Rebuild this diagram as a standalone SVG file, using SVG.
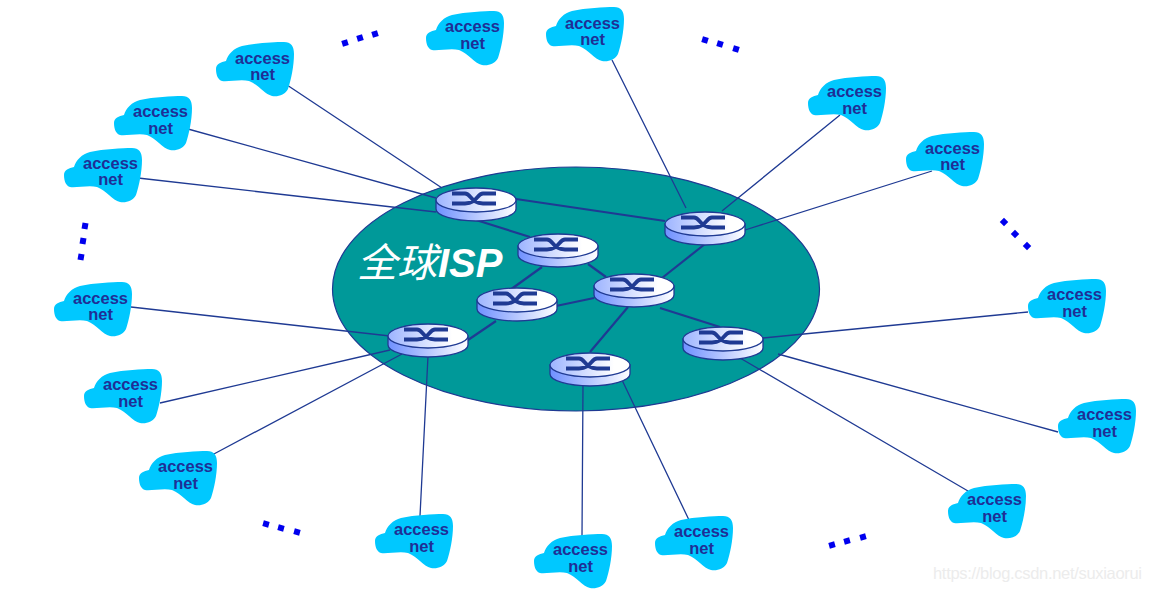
<svg xmlns="http://www.w3.org/2000/svg" width="1151" height="591" viewBox="0 0 1151 591">
<style>
.acc{stroke:#1f3a93;stroke-width:1.3;fill:none}
.bb{stroke:#1f3a93;stroke-width:2.2;fill:none}
.lbl{font:bold 16.5px "Liberation Sans",Arial,sans-serif;fill:#1f2f96;text-anchor:middle}
.dot{fill:#0000ee}
</style>
<defs>
<linearGradient id="rg" x1="0" x2="1" y1="0" y2="0"><stop offset="0" stop-color="#6f90ff"/><stop offset="1" stop-color="#ffffff"/></linearGradient>
<linearGradient id="rt" x1="0" x2="1" y1="0" y2="0"><stop offset="0" stop-color="#9db4ff"/><stop offset="0.8" stop-color="#ffffff"/></linearGradient>
<path id="blob" fill="#00c8ff" d="M0 27C0 22 5 20 10 19C12 12 18 6 26 4C40 1 58 0 68 0C75 0 78 4 78 12C78 24 75 38 72 47C69 53 62 55 56 54C48 52 43 43 33 39C25 37 12 40 6 39C2 38 0 33 0 27Z"/>
<g id="router">
<path d="M-40 0V9A40 12 0 0 0 40 9V0Z" fill="url(#rg)" stroke="#1f3a93" stroke-width="1.3"/>
<ellipse rx="40" ry="12" fill="url(#rt)" stroke="#1f3a93" stroke-width="1.3"/>
<path d="M-24 -6.500H-11C-5 -6.500 -5 3.500 7 3.500H20M20 -6.500H7C1 -6.500 1 3.500 -11 3.500H-24" fill="none" stroke="#1f3a93" stroke-width="3.800"/>
</g>
</defs>
<ellipse id="core" cx="576" cy="289" rx="243.500" ry="122" fill="#009999" stroke="#1f3a93" stroke-width="1.200"/>
<g id="connectors">
<path class="acc" d="M287 85L442 188M188 129L436 198M138 178L436 212M131 307L390 336M160 403L390 350M212 455L402 354M420 516L428 356M582 536L583 385M689 520L622 380M968 491L740 358M1058 432L778 354M1028 312L763 338M932 171L745 230M840 115L722 211M612 60L686 208"/>
<path class="bb" d="M516 199L665 221M476 220L530 237M542 267L510 290M588 264L606 277M705 244L662 278M556 306L594 298M496 321L468 340M628 307L590 352M660 308L720 327"/>
</g>
<g id="routers">
<use id="r1" href="#router" x="476" y="200"/>
<use id="r2" href="#router" x="558" y="246"/>
<use id="r3" href="#router" x="705" y="224"/>
<use id="r4" href="#router" x="634" y="286"/>
<use id="r5" href="#router" x="517" y="300"/>
<use id="r6" href="#router" x="428" y="336"/>
<use id="r7" href="#router" x="723" y="339"/>
<use id="r8" href="#router" x="590" y="365"/>
</g>
<g id="a1" transform="translate(216,42)"><use href="#blob"/><text class="lbl" x="46.500" y="22">access</text><text class="lbl" x="46.500" y="38">net</text></g>
<g id="a2" transform="translate(114,96)"><use href="#blob"/><text class="lbl" x="46.500" y="21">access</text><text class="lbl" x="46.500" y="38">net</text></g>
<g id="a3" transform="translate(64,148)"><use href="#blob"/><text class="lbl" x="46.500" y="21">access</text><text class="lbl" x="46.500" y="37">net</text></g>
<g id="a4" transform="translate(54,282)"><use href="#blob"/><text class="lbl" x="46.500" y="22">access</text><text class="lbl" x="46.500" y="38">net</text></g>
<g id="a5" transform="translate(84,369)"><use href="#blob"/><text class="lbl" x="46.500" y="21">access</text><text class="lbl" x="46.500" y="38">net</text></g>
<g id="a6" transform="translate(139,451)"><use href="#blob"/><text class="lbl" x="46.500" y="21">access</text><text class="lbl" x="46.500" y="38">net</text></g>
<g id="a7" transform="translate(375,514)"><use href="#blob"/><text class="lbl" x="46.500" y="21">access</text><text class="lbl" x="46.500" y="38">net</text></g>
<g id="a8" transform="translate(534,534)"><use href="#blob"/><text class="lbl" x="46.500" y="21">access</text><text class="lbl" x="46.500" y="38">net</text></g>
<g id="a9" transform="translate(655,516)"><use href="#blob"/><text class="lbl" x="46.500" y="21">access</text><text class="lbl" x="46.500" y="38">net</text></g>
<g id="a10" transform="translate(948,484)"><use href="#blob"/><text class="lbl" x="46.500" y="21">access</text><text class="lbl" x="46.500" y="38">net</text></g>
<g id="a11" transform="translate(1058,399)"><use href="#blob"/><text class="lbl" x="46.500" y="21">access</text><text class="lbl" x="46.500" y="38">net</text></g>
<g id="a12" transform="translate(1028,279)"><use href="#blob"/><text class="lbl" x="46.500" y="21">access</text><text class="lbl" x="46.500" y="38">net</text></g>
<g id="a13" transform="translate(906,132)"><use href="#blob"/><text class="lbl" x="46.500" y="22">access</text><text class="lbl" x="46.500" y="38">net</text></g>
<g id="a14" transform="translate(808,76)"><use href="#blob"/><text class="lbl" x="46.500" y="21">access</text><text class="lbl" x="46.500" y="38">net</text></g>
<g id="a15" transform="translate(546,7)"><use href="#blob"/><text class="lbl" x="46.500" y="22">access</text><text class="lbl" x="46.500" y="38">net</text></g>
<g id="a16" transform="translate(426,11)"><use href="#blob"/><text class="lbl" x="46.500" y="21">access</text><text class="lbl" x="46.500" y="38">net</text></g>
<g id="dots" class="dot">
<rect x="342" y="40" width="6" height="6" transform="rotate(-17 345 43)"/><rect x="357" y="35" width="6" height="6" transform="rotate(-17 360 38)"/><rect x="372" y="31" width="6" height="6" transform="rotate(-17 375 34)"/>
<rect x="702" y="37" width="6" height="6" transform="rotate(17 705 40)"/><rect x="717" y="41" width="6" height="6" transform="rotate(17 720 44)"/><rect x="733" y="46" width="6" height="6" transform="rotate(17 736 49)"/>
<rect x="1001" y="219" width="6" height="6" transform="rotate(45 1004 222)"/><rect x="1012" y="231" width="6" height="6" transform="rotate(45 1015 234)"/><rect x="1024" y="243" width="6" height="6" transform="rotate(45 1027 246)"/>
<rect x="82" y="223" width="6" height="6" transform="rotate(10 85 226)"/><rect x="80" y="238" width="6" height="6" transform="rotate(10 83 241)"/><rect x="78" y="254" width="6" height="6" transform="rotate(10 81 257)"/>
<rect x="263" y="521" width="6" height="6" transform="rotate(15 266 524)"/><rect x="278" y="525" width="6" height="6" transform="rotate(15 281 528)"/><rect x="294" y="529" width="6" height="6" transform="rotate(15 297 532)"/>
<rect x="829" y="542" width="6" height="6" transform="rotate(-15 832 545)"/><rect x="844" y="538" width="6" height="6" transform="rotate(-15 847 541)"/><rect x="860" y="534" width="6" height="6" transform="rotate(-15 863 537)"/>
</g>
<text id="title" x="357" y="277" fill="#ffffff" font-style="italic" font-size="40" font-family="'Noto Sans CJK SC',sans-serif">全球<tspan x="438" font-family="'Liberation Sans',Arial,sans-serif" font-weight="bold">ISP</tspan></text>
<text id="wm" x="933" y="579" fill="#ececec" font-size="16.500" textLength="209" lengthAdjust="spacing" font-family="'Liberation Sans',Arial,sans-serif">https://blog.csdn.net/suxiaorui</text>
</svg>
